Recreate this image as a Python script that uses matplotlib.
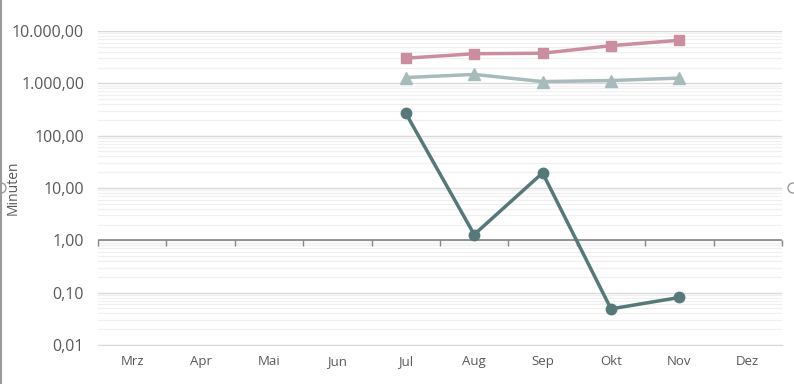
import matplotlib.pyplot as plt
from matplotlib.patches import Ellipse
from matplotlib.lines import Line2D
from matplotlib.ticker import FixedLocator, LogLocator, NullFormatter

plt.rcParams['font.family'] = ['Open Sans', 'DejaVu Sans']

months = ["Mrz", "Apr", "Mai", "Jun", "Jul", "Aug", "Sep", "Okt", "Nov", "Dez"]
data_months = ["Jul", "Aug", "Sep", "Okt", "Nov"]
series_pink = [3020, 3680, 3760, 5240, 6660]
series_light = [1290, 1480, 1080, 1130, 1260]
series_dark = [268, 1.29, 19.4, 0.049, 0.081]
y_ticks = [0.01, 0.1, 1, 10, 100, 1000, 10000]
y_tick_labels = ["0,01", "0,10", "1,00", "10,00", "100,00", "1.000,00", "10.000,00"]

text_color = "#595959"
xpos = [months.index(m) for m in data_months]

fig = plt.figure(figsize=(7.94, 3.84), dpi=100)
ax = fig.add_axes([98 / 794, 1 - 345 / 384, 684 / 794, 314 / 384])

ax.plot(xpos, series_pink, color="#CB8E9F", lw=2.5, marker="s", markersize=7.5, zorder=3)
ax.plot(xpos, series_light, color="#A7BBBD", lw=2.5, marker="^", markersize=8.5, zorder=3)
ax.plot(xpos, series_dark, color="#557978", lw=2.5, marker="o", markersize=7.5, zorder=4)

ax.set_yscale("log")
ax.set_ylim(0.01, 10000)
ax.set_xlim(-0.5, len(months) - 0.5)
ax.yaxis.set_major_locator(FixedLocator(y_ticks))
ax.set_yticklabels(y_tick_labels)
ax.yaxis.set_minor_locator(LogLocator(base=10, subs=range(2, 10)))
ax.yaxis.set_minor_formatter(NullFormatter())
ax.grid(True, which="major", axis="y", color="#D9D9D9", lw=1)
ax.grid(True, which="minor", axis="y", color="#F0F0F0", lw=0.9)
ax.tick_params(axis="y", which="both", length=0, labelsize=11.5, labelcolor=text_color, pad=10)

ax.set_xticks(range(len(months)))
ax.set_xticklabels(months)
ax.tick_params(axis="x", length=0, labelsize=9.5, labelcolor=text_color, pad=7)

for s in ["top", "right", "left"]:
    ax.spines[s].set_visible(False)
ax.spines["bottom"].set_color("#D9D9D9")

# category axis crosses at 1,00, with tick marks between categories
ax.axhline(1, color="#868686", lw=1.2, zorder=2)
bounds = [i - 0.5 for i in range(len(months) + 1)]
ax.vlines(bounds, 1 / 3 - 0.018, 1 / 3, transform=ax.get_xaxis_transform(),
          color="#868686", lw=1, zorder=2, clip_on=False)

ax.set_ylabel("Minuten", fontsize=10, color=text_color)
ax.yaxis.set_label_coords(-77 / 684, 0.5)

# chart frame edge and selection handles
fig.add_artist(Line2D([0.001, 0.001], [0, 1], transform=fig.transFigure, color="#9A9A9A", lw=1.5))
for cx in [1, 793]:
    fig.add_artist(Ellipse((cx / 794, 1 - 188 / 384), 10 / 794, 10 / 384, transform=fig.transFigure,
                           facecolor="white", edgecolor="#9A9A9A", lw=1, zorder=0))

fig.savefig("out.png", dpi=100)
